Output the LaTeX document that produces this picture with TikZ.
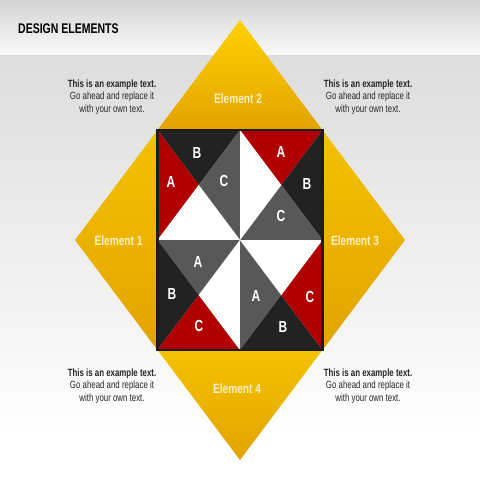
\documentclass[tikz,border=0pt]{standalone}
\usepackage{fontspec}
\setmainfont{Liberation Sans}[FakeStretch=0.75]
\definecolor{hdrtop}{HTML}{D4D4D4}
\definecolor{hdrbot}{HTML}{FAFAFA}
\definecolor{bgtop}{HTML}{DDDDDD}
\definecolor{ylight}{HTML}{FFD200}
\definecolor{ymid}{HTML}{F4C200}
\definecolor{ydark}{HTML}{E3A300}
\definecolor{cred}{HTML}{B00000}
\definecolor{cdark}{HTML}{222222}
\definecolor{cgray}{HTML}{585858}
\definecolor{frame}{HTML}{1C1C1C}
\definecolor{elab}{HTML}{FFF2C2}
\definecolor{txt}{HTML}{262626}
\tikzset{
  letter/.style={text=white,font=\fontsize{16}{16}\selectfont\bfseries,inner sep=0pt},
  elemlabel/.style={text=elab,font=\fontsize{13.5}{14}\selectfont\bfseries,inner sep=0pt},
  bodytext/.style={text=txt,align=center,font=\fontsize{10.5}{12.6}\selectfont,inner sep=0pt},
  redtri/.style={fill=cred},
  darktri/.style={fill=cdark},
  graytri/.style={fill=cgray},
  whitetri/.style={fill=white}
}
\begin{document}
\begin{tikzpicture}[x=1pt,y=-1pt]
\useasboundingbox (0,0) rectangle (480,480);
% background
\shade[top color=hdrtop,bottom color=hdrbot] (0,0) rectangle (480,55);
\shade[top color=bgtop,bottom color=white] (0,55) rectangle (480,440);
\fill[white] (0,440) rectangle (480,480);
% title
\node[anchor=west,text=black,font=\fontsize{14}{14}\selectfont\bfseries,inner sep=0pt] (title) at (18,29) {DESIGN ELEMENTS};
% coordinates
\coordinate (T) at (240,20);
\coordinate (R) at (405,240);
\coordinate (B) at (240,460);
\coordinate (L) at (75,240);
\coordinate (q1) at (157.5,130);
\coordinate (q2) at (322.5,130);
\coordinate (q3) at (322.5,350);
\coordinate (q4) at (157.5,350);
\coordinate (O) at (240,240);
\coordinate (mt) at (240,130);
\coordinate (mr) at (322.5,240);
\coordinate (mb) at (240,350);
\coordinate (ml) at (157.5,240);
\coordinate (c1) at (198.75,185);
\coordinate (c2) at (281.25,185);
\coordinate (c3) at (198.75,295);
\coordinate (c4) at (281.25,295);
% yellow triangles
\shade[top color=ylight,bottom color=ydark] (T) -- (q2) -- (q1) -- cycle;
\shade[top color=ymid,bottom color=ydark] (L) -- (q1) -- (q4) -- cycle;
\shade[top color=ymid,bottom color=ydark] (R) -- (q2) -- (q3) -- cycle;
\shade[top color=ymid,bottom color=ydark] (B) -- (q3) -- (q4) -- cycle;
% top-left quadrant
\fill[darktri] (q1) -- (mt) -- (c1) -- cycle;
\fill[redtri] (q1) -- (ml) -- (c1) -- cycle;
\fill[graytri] (mt) -- (O) -- (c1) -- cycle;
\fill[whitetri] (ml) -- (O) -- (c1) -- cycle;
% top-right quadrant
\fill[redtri] (mt) -- (q2) -- (c2) -- cycle;
\fill[darktri] (q2) -- (mr) -- (c2) -- cycle;
\fill[graytri] (O) -- (mr) -- (c2) -- cycle;
\fill[whitetri] (mt) -- (O) -- (c2) -- cycle;
% bottom-left quadrant
\fill[graytri] (ml) -- (O) -- (c3) -- cycle;
\fill[darktri] (ml) -- (q4) -- (c3) -- cycle;
\fill[redtri] (q4) -- (mb) -- (c3) -- cycle;
\fill[whitetri] (O) -- (mb) -- (c3) -- cycle;
% bottom-right quadrant
\fill[graytri] (O) -- (mb) -- (c4) -- cycle;
\fill[darktri] (mb) -- (q3) -- (c4) -- cycle;
\fill[redtri] (mr) -- (q3) -- (c4) -- cycle;
\fill[whitetri] (O) -- (mr) -- (c4) -- cycle;
% frame
\draw[frame,line width=2.5pt] (q1) rectangle (q3);
% letters
\node[letter] (tlB) at (197,153) {B};
\node[letter] (tlA) at (171,182) {A};
\node[letter] (tlC) at (224,181) {C};
\node[letter] (trA) at (281,152) {A};
\node[letter] (trB) at (307,184) {B};
\node[letter] (trC) at (281,216) {C};
\node[letter] (blA) at (198,262) {A};
\node[letter] (blB) at (172,294) {B};
\node[letter] (blC) at (199,326) {C};
\node[letter] (brA) at (256,296) {A};
\node[letter] (brB) at (283,327) {B};
\node[letter] (brC) at (310,297) {C};
% element labels
\node[elemlabel] (e2) at (238,99) {Element 2};
\node[elemlabel] (e1) at (118.5,241) {Element 1};
\node[elemlabel] (e3) at (355,241) {Element 3};
\node[elemlabel] (e4) at (237,389) {Element 4};
% body texts
\node[bodytext] (ttl) at (112,97) {\textbf{This is an example text.}\\Go ahead and replace it\\with your own text.};
\node[bodytext] (ttr) at (368,97) {\textbf{This is an example text.}\\Go ahead and replace it\\with your own text.};
\node[bodytext] (tbl) at (112,386) {\textbf{This is an example text.}\\Go ahead and replace it\\with your own text.};
\node[bodytext] (tbr) at (368,386) {\textbf{This is an example text.}\\Go ahead and replace it\\with your own text.};
\end{tikzpicture}
\end{document}
